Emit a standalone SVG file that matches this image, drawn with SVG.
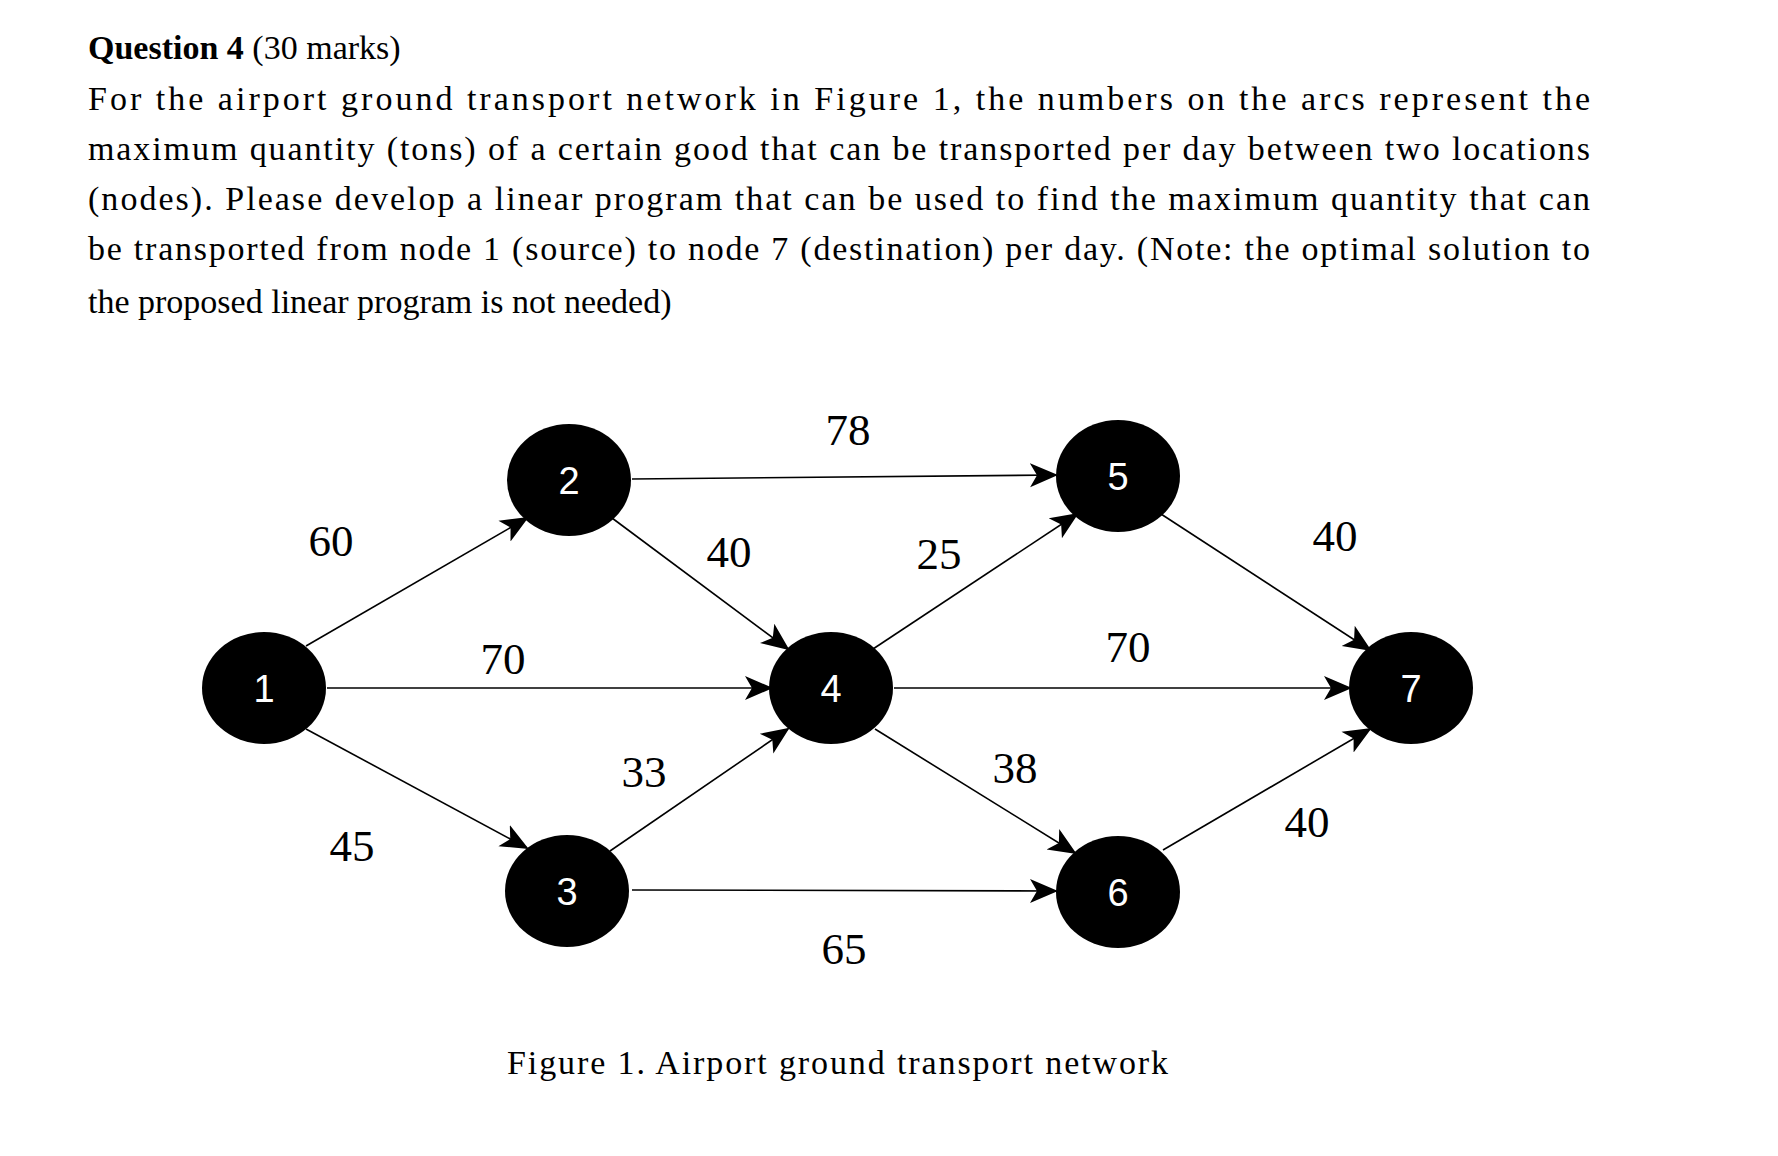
<svg xmlns="http://www.w3.org/2000/svg" width="1778" height="1156" viewBox="0 0 1778 1156">
<style>
.t{font-family:"Liberation Serif","Times New Roman",serif;font-size:34px;fill:#000}
.l{font-family:"Liberation Serif","Times New Roman",serif;font-size:45px;fill:#000;text-anchor:middle}
.n{fill:#000}
.nt{font-family:"Liberation Sans",Arial,sans-serif;font-size:38px;fill:#fff;text-anchor:middle}
.e{stroke:#000;stroke-width:1.6;fill:none;marker-end:url(#a)}
</style>
<defs>
<marker id="a" markerUnits="userSpaceOnUse" markerWidth="30" markerHeight="30" refX="26" refY="12" orient="auto" viewBox="0 0 30 24">
<path d="M0,0 L28,12 L0,24 L7,12 Z" fill="#000"/>
</marker>
</defs>
<rect width="1778" height="1156" fill="#fff"/>
<g id="question">
<text class="t" x="88" y="59"><tspan font-weight="bold">Question 4</tspan> (30 marks)</text>
<text class="t" x="88" y="110" textLength="1502" lengthAdjust="spacing">For the airport ground transport network in Figure 1, the numbers on the arcs represent the</text>
<text class="t" x="88" y="160" textLength="1502" lengthAdjust="spacing">maximum quantity (tons) of a certain good that can be transported per day between two locations</text>
<text class="t" x="88" y="210" textLength="1502" lengthAdjust="spacing">(nodes). Please develop a linear program that can be used to find the maximum quantity that can</text>
<text class="t" x="88" y="260" textLength="1502" lengthAdjust="spacing">be transported from node 1 (source) to node 7 (destination) per day. (Note: the optimal solution to</text>
<text class="t" x="88" y="313">the proposed linear program is not needed)</text>
</g>
<g id="connectors">
<line class="e" x1="306" y1="646" x2="527" y2="518"/>
<line class="e" x1="327" y1="688" x2="771" y2="688"/>
<line class="e" x1="306" y1="729" x2="527" y2="848"/>
<line class="e" x1="632" y1="479" x2="1056" y2="475"/>
<line class="e" x1="612" y1="518" x2="788" y2="649"/>
<line class="e" x1="610" y1="851" x2="788" y2="729"/>
<line class="e" x1="632" y1="890" x2="1056" y2="891"/>
<line class="e" x1="873" y1="649" x2="1077" y2="514"/>
<line class="e" x1="894" y1="688" x2="1350" y2="688"/>
<line class="e" x1="875" y1="729" x2="1075" y2="853"/>
<line class="e" x1="1161" y1="514" x2="1370" y2="650"/>
<line class="e" x1="1163" y1="850" x2="1370" y2="729"/>
</g>
<g id="labels">
<text class="l" x="848" y="445">78</text>
<text class="l" x="331" y="556">60</text>
<text class="l" x="729" y="567">40</text>
<text class="l" x="939" y="569">25</text>
<text class="l" x="1335" y="551">40</text>
<text class="l" x="503" y="674">70</text>
<text class="l" x="1128" y="662">70</text>
<text class="l" x="644" y="787">33</text>
<text class="l" x="1015" y="783">38</text>
<text class="l" x="352" y="861">45</text>
<text class="l" x="1307" y="837">40</text>
<text class="l" x="844" y="964">65</text>
</g>
<g id="node1"><ellipse class="n" cx="264" cy="688" rx="62" ry="56"/><text class="nt" x="264" y="702">1</text></g>
<g id="node2"><ellipse class="n" cx="569" cy="480" rx="62" ry="56"/><text class="nt" x="569" y="494">2</text></g>
<g id="node3"><ellipse class="n" cx="567" cy="891" rx="62" ry="56"/><text class="nt" x="567" y="905">3</text></g>
<g id="node4"><ellipse class="n" cx="831" cy="688" rx="62" ry="56"/><text class="nt" x="831" y="702">4</text></g>
<g id="node5"><ellipse class="n" cx="1118" cy="476" rx="62" ry="56"/><text class="nt" x="1118" y="490">5</text></g>
<g id="node6"><ellipse class="n" cx="1118" cy="892" rx="62" ry="56"/><text class="nt" x="1118" y="906">6</text></g>
<g id="node7"><ellipse class="n" cx="1411" cy="688" rx="62" ry="56"/><text class="nt" x="1411" y="702">7</text></g>
<g id="caption"><text class="t" x="507" y="1074" textLength="661" lengthAdjust="spacing">Figure 1. Airport ground transport network</text></g>
</svg>
